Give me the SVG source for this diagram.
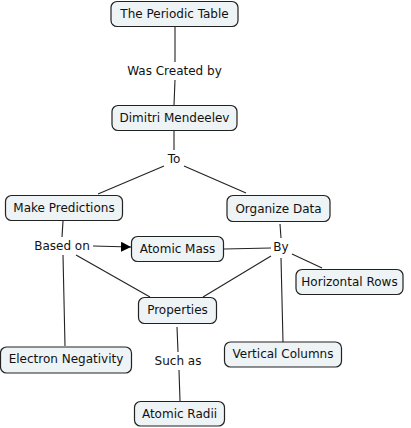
<svg xmlns="http://www.w3.org/2000/svg" width="411" height="428" viewBox="0 0 411 428">
<style>
.n rect{fill:#eef3f5;stroke:#222;stroke-width:1.2}
text{font-family:"DejaVu Sans",Verdana,sans-serif;font-size:12px;fill:#111;text-anchor:middle;dominant-baseline:central}
.c line{stroke:#222;stroke-width:1.1}
</style>
<defs><marker id="ah" viewBox="0 0 10 10" refX="10" refY="5" markerWidth="10" markerHeight="10" markerUnits="userSpaceOnUse" orient="auto"><path d="M0,0L10,5L0,10z" fill="#000"/></marker></defs>
<rect width="411" height="428" fill="#fff"/>
<g class="c">
<line x1="175" y1="26" x2="175" y2="62"/>
<line x1="175" y1="80" x2="174" y2="105"/>
<line x1="174" y1="130" x2="174" y2="150"/>
<line x1="164" y1="166" x2="98" y2="194"/>
<line x1="184" y1="166" x2="246" y2="193"/>
<line x1="63" y1="221" x2="62" y2="237"/>
<line x1="93" y1="246" x2="131" y2="247" marker-end="url(#ah)"/>
<line x1="63" y1="255" x2="65" y2="346"/>
<line x1="76" y1="255" x2="150" y2="297"/>
<line x1="280" y1="224" x2="281" y2="238"/>
<line x1="224" y1="249" x2="271" y2="248"/>
<line x1="271" y1="256" x2="203" y2="297"/>
<line x1="281" y1="258" x2="283" y2="342"/>
<line x1="292" y1="254" x2="322" y2="268"/>
<line x1="177" y1="327" x2="178" y2="352"/>
<line x1="179" y1="370" x2="180" y2="401"/>
</g>
<g id="periodic-table" class="n"><rect x="111" y="1.5" width="127" height="25" rx="6"/><text x="174.5" y="14">The Periodic Table</text></g>
<g id="mendeelev" class="n"><rect x="112" y="105.5" width="125" height="25" rx="6"/><text x="174.5" y="118">Dimitri Mendeelev</text></g>
<g id="make-predictions" class="n"><rect x="5.5" y="195.5" width="117" height="25" rx="6"/><text x="64" y="208">Make Predictions</text></g>
<g id="organize-data" class="n"><rect x="227" y="195.5" width="103" height="26" rx="6"/><text x="278.5" y="208.5">Organize Data</text></g>
<g id="atomic-mass" class="n"><rect x="131.5" y="236.5" width="92" height="25" rx="6"/><text x="177.5" y="249">Atomic Mass</text></g>
<g id="horizontal-rows" class="n"><rect x="296" y="269.5" width="107" height="25" rx="6"/><text x="349.5" y="282">Horizontal Rows</text></g>
<g id="properties" class="n"><rect x="138.5" y="297.5" width="78" height="26" rx="6"/><text x="177.5" y="310">Properties</text></g>
<g id="electron-negativity" class="n"><rect x="0.5" y="347" width="131" height="26" rx="6"/><text x="66" y="359">Electron Negativity</text></g>
<g id="vertical-columns" class="n"><rect x="224.5" y="342" width="117" height="25" rx="6"/><text x="283" y="354">Vertical Columns</text></g>
<g id="atomic-radii" class="n"><rect x="134.5" y="401.5" width="90" height="24.5" rx="6"/><text x="179.5" y="413.5">Atomic Radii</text></g>
<g id="labels">
<text x="174.5" y="71">Was Created by</text>
<text x="174" y="159">To</text>
<text x="62" y="246">Based on</text>
<text x="281" y="247">By</text>
<text x="178" y="361">Such as</text>
</g>
</svg>
